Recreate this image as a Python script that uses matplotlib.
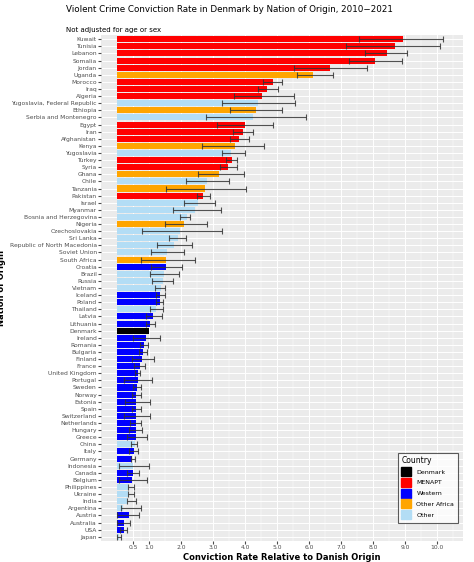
import matplotlib
matplotlib.use("Agg")
import matplotlib.pyplot as plt
from matplotlib.patches import Patch

# ── Data (top to bottom) ─────────────────────────────────────
countries = ["Kuwait", "Tunisia", "Lebanon", "Somalia", "Jordan", "Uganda", "Morocco", "Iraq",
             "Algeria", "Yugoslavia, Federal Republic", "Ethiopia", "Serbia and Montenegro",
             "Egypt", "Iran", "Afghanistan", "Kenya", "Yugoslavia", "Turkey", "Syria", "Ghana",
             "Chile", "Tanzania", "Pakistan", "Israel", "Myanmar", "Bosnia and Herzegovina",
             "Nigeria", "Czechoslovakia", "Sri Lanka", "Republic of North Macedonia",
             "Soviet Union", "South Africa", "Croatia", "Brazil", "Russia", "Vietnam", "Iceland",
             "Poland", "Thailand", "Latvia", "Lithuania", "Denmark", "Ireland", "Romania",
             "Bulgaria", "Finland", "France", "United Kingdom", "Portugal", "Sweden", "Norway",
             "Estonia", "Spain", "Switzerland", "Netherlands", "Hungary", "Greece", "China",
             "Italy", "Germany", "Indonesia", "Canada", "Belgium", "Philippines", "Ukraine",
             "India", "Argentina", "Austria", "Australia", "USA", "Japan"]
rate = [8.94, 8.68, 8.43, 8.06, 6.64, 6.11, 4.86, 4.67, 4.52, 4.40, 4.33, 4.25, 4.01, 3.94,
        3.81, 3.69, 3.55, 3.58, 3.47, 3.19, 2.80, 2.74, 2.67, 2.53, 2.44, 2.20, 2.09, 1.97,
        1.89, 1.78, 1.55, 1.52, 1.52, 1.47, 1.45, 1.36, 1.35, 1.33, 1.21, 1.13, 1.02, 1.00,
        0.92, 0.85, 0.80, 0.79, 0.72, 0.65, 0.65, 0.61, 0.60, 0.60, 0.59, 0.58, 0.58, 0.58,
        0.58, 0.55, 0.52, 0.47, 0.50, 0.50, 0.47, 0.35, 0.35, 0.30, 0.20, 0.36, 0.22, 0.21,
        0.05]
ci_lo = [7.56, 7.15, 7.73, 7.24, 5.54, 5.61, 4.55, 4.40, 3.65, 3.28, 3.52, 2.79, 3.11, 3.61,
         3.53, 2.65, 3.27, 3.40, 3.21, 2.52, 2.16, 1.54, 2.49, 2.10, 1.74, 1.97, 1.50, 0.79,
         1.63, 1.24, 1.05, 0.76, 1.07, 1.04, 1.10, 1.20, 1.21, 1.21, 1.04, 0.90, 0.91, 1.00,
         0.51, 0.71, 0.69, 0.46, 0.52, 0.56, 0.23, 0.49, 0.48, 0.24, 0.46, 0.23, 0.42, 0.38,
         0.30, 0.43, 0.36, 0.43, 0.05, 0.31, 0.07, 0.33, 0.34, 0.30, 0.13, 0.00, 0.00, 0.10,
         0.00]
ci_hi = [10.17, 10.08, 9.04, 8.90, 7.79, 6.74, 5.14, 5.04, 5.52, 5.56, 5.14, 5.90, 4.86, 4.24,
         4.11, 4.60, 3.98, 3.75, 3.75, 3.95, 3.49, 4.03, 2.89, 3.06, 3.25, 2.27, 2.81, 3.29,
         2.14, 2.35, 2.10, 2.44, 2.03, 1.94, 1.76, 1.51, 1.49, 1.44, 1.43, 1.39, 1.19, 1.00,
         1.35, 0.97, 0.94, 1.17, 0.88, 0.73, 1.08, 0.76, 0.74, 1.04, 0.75, 1.03, 0.76, 0.79,
         0.93, 0.62, 0.66, 0.56, 1.01, 0.70, 0.95, 0.53, 0.53, 0.59, 0.75, 0.70, 0.39, 0.31,
         0.11]

menapt = {"Kuwait", "Tunisia", "Lebanon", "Somalia", "Jordan", "Morocco", "Iraq", "Algeria",
          "Egypt", "Iran", "Afghanistan", "Turkey", "Syria", "Pakistan"}
africa = {"Uganda", "Ethiopia", "Kenya", "Ghana", "Tanzania", "Nigeria", "South Africa"}
western = {"Croatia", "Iceland", "Poland", "Latvia", "Lithuania", "Ireland", "Romania",
           "Bulgaria", "Finland", "France", "United Kingdom", "Portugal", "Sweden", "Norway",
           "Estonia", "Spain", "Switzerland", "Netherlands", "Hungary", "Greece", "Italy",
           "Germany", "Canada", "Belgium", "Austria", "Australia", "USA"}

group_colors = {"Denmark": "black", "MENAPT": "#FF0000", "Western": "#0000FF",
                "Other Africa": "#FFA500", "Other": "#B3DDF5"}


def group_of(c):
    if c == "Denmark":
        return "Denmark"
    if c in menapt:
        return "MENAPT"
    if c in africa:
        return "Other Africa"
    if c in western:
        return "Western"
    return "Other"


colors = [group_colors[group_of(c)] for c in countries]
n = len(countries)
ypos = list(range(n - 1, -1, -1))

# ── Plot ─────────────────────────────────────────────────────
fig = plt.figure(figsize=(4.74, 5.62), dpi=100)
ax = fig.add_axes([101 / 474, 21 / 562, 362 / 474, 506 / 562])
ax.set_facecolor("#EBEBEB")

ax.barh(ypos, rate, height=0.85, color=colors, zorder=2)
has_ci = [c != "Denmark" for c in countries]
ax.errorbar([r for r, h in zip(rate, has_ci) if h], [y for y, h in zip(ypos, has_ci) if h],
            xerr=[[r - lo for r, lo, h in zip(rate, ci_lo, has_ci) if h],
                  [hi - r for r, hi, h in zip(rate, ci_hi, has_ci) if h]],
            fmt="none", ecolor="#333333", elinewidth=0.8, capsize=2.5, capthick=0.8, alpha=0.85,
            zorder=3)

xt = [0.5, 1, 2, 3, 4, 5, 6, 7, 8, 9, 10]
ax.set_xticks(xt)
ax.set_xticklabels([f"{v:.1f}" for v in xt], fontsize=4.3, color="#4D4D4D")
ax.set_xticks([0.25, 0.75, 1.5, 2.5, 3.5, 4.5, 5.5, 6.5, 7.5, 8.5, 9.5, 10.5], minor=True)
ax.set_yticks(ypos)
ax.set_yticklabels(countries, fontsize=4.3, color="#4D4D4D")
ax.tick_params(axis="both", length=2, color="#4D4D4D", pad=1)
ax.tick_params(axis="x", which="minor", length=0)
ax.grid(True, which="major", color="white", linewidth=0.7, zorder=0)
ax.grid(True, axis="x", which="minor", color="white", linewidth=0.35, zorder=0)
ax.set_axisbelow(True)
for s in ax.spines.values():
    s.set_visible(False)
ax.set_xlim(-0.5, 10.8)
ax.set_ylim(-0.6, n - 0.4)

ax.set_xlabel("Conviction Rate Relative to Danish Origin", fontsize=6, fontweight="bold",
              labelpad=2)
ax.set_ylabel("Nation of Origin", fontsize=6, fontweight="bold", labelpad=3)
fig.text(66 / 474, 1 - 9 / 562, "Violent Crime Conviction Rate in Denmark by Nation of Origin, 2010\u22122021",
         fontsize=6.3, va="center")
fig.text(66 / 474, 1 - 30 / 562, "Not adjusted for age or sex", fontsize=5, va="center")

handles = [Patch(color=v, label=k) for k, v in group_colors.items()]
leg = ax.legend(handles=handles, title="Country", loc="lower right",
                bbox_to_anchor=(0.995, 0.03), fontsize=4.5, title_fontsize=5.5,
                handlelength=1.6, handleheight=1.8, frameon=True, fancybox=False,
                borderpad=0.6, labelspacing=0.3)
leg.get_frame().set_edgecolor("#333333")
leg.get_frame().set_linewidth(0.8)
leg._legend_box.align = "left"

fig.savefig("out.png", dpi=100)
